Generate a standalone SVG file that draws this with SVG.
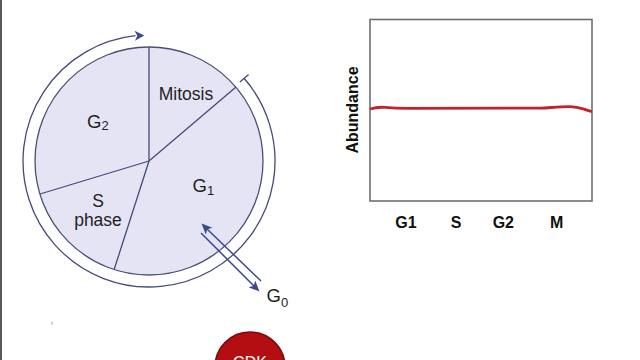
<svg xmlns="http://www.w3.org/2000/svg" width="640" height="360" viewBox="0 0 640 360">
<style>
.lbl{font-family:"Liberation Sans",Arial,sans-serif;font-size:17.5px;fill:#1e1e1e}
.g{font-size:18.5px}
.sub{font-size:13px}
.ax{font-family:"Liberation Sans",Arial,sans-serif;font-size:16px;font-weight:bold;fill:#111;text-anchor:middle}
.ln{stroke:#464a78;stroke-width:1.3;fill:none}
.ar{stroke:#3b4a8f;stroke-width:1.5;fill:none}
.ah{fill:#3b4a8f}
</style>
<rect x="0" y="0" width="640" height="360" fill="#fff"/>
<rect x="0" y="0" width="2" height="360" fill="#5a5a5a"/>
<g id="cycle">
<circle cx="149" cy="161" r="114" fill="#e4e4f4" stroke="#4b4f75" stroke-width="1.3"/>
<path class="ln" d="M149 161 L149 47 M149 161 L236 87 M149 161 L40 194 M149 161 L114.3 269"/>
</g>
<g id="connectors">
<path class="ln" d="M244.1 78.3 A126 126 0 1 1 135.5 35.7"/>
<line class="ln" x1="239.9" y1="81.9" x2="248.6" y2="74.4"/>
<polygon class="ah" points="144.3,35.6 134.5,30.8 137.3,35.8 135,40.8"/>
<line class="ar" x1="207" y1="229" x2="261" y2="281"/>
<polygon class="ah" points="201.5,223.5 212.5,227.8 207.2,229.2 205.8,234.5"/>
<line class="ar" x1="201" y1="233" x2="254" y2="286"/>
<polygon class="ah" points="259.5,291.5 255.2,280.5 253.8,285.8 248.5,287.2"/>
</g>
<g id="mitosis"><text class="lbl" x="186" y="99.5" text-anchor="middle">Mitosis</text></g>
<g id="g2"><text class="lbl g" x="87" y="127.7">G<tspan class="sub" dy="2">2</tspan></text></g>
<g id="g1"><text class="lbl g" x="192.5" y="191.7">G<tspan class="sub" dy="3.3">1</tspan></text></g>
<g id="s-phase"><text class="lbl" x="98" y="207.3" text-anchor="middle">S</text><text class="lbl" x="98" y="225.5" text-anchor="middle">phase</text></g>
<g id="g0"><text class="lbl g" x="266.5" y="301.7">G<tspan class="sub" font-size="14" dy="5">0</tspan></text></g>
<g id="chart">
<rect x="370" y="19.5" width="222" height="181.5" fill="none" stroke="#6e6e6e" stroke-width="1.6"/>
<path d="M370 109 C375 107.5 380 107 385 107.4 C392 108 398 108.4 410 108.3 L540 108.2 C552 107.6 560 106.6 570 106.7 C578 106.8 582 108.6 586 109.8 C588.5 110.6 590 111.2 592 111.6" fill="none" stroke="#c0232b" stroke-width="2.8"/>
<text class="ax" transform="translate(358.3,110) rotate(-90)">Abundance</text>
<text class="ax" x="406" y="228.3">G1</text>
<text class="ax" x="456" y="228.3">S</text>
<text class="ax" x="503.3" y="228.3">G2</text>
<text class="ax" x="556.7" y="228.3">M</text>
</g>
<g id="cdk">
<circle cx="250" cy="367" r="35" fill="#b30f12" stroke="#7e0508" stroke-width="1.5"/>
<text x="250" y="367.5" text-anchor="middle" font-family="'Liberation Sans',Arial,sans-serif" font-size="16" fill="#fff">CDK</text>
</g>
<line x1="52" y1="321.5" x2="52" y2="325" stroke="#aaa" stroke-width="1"/>
</svg>
